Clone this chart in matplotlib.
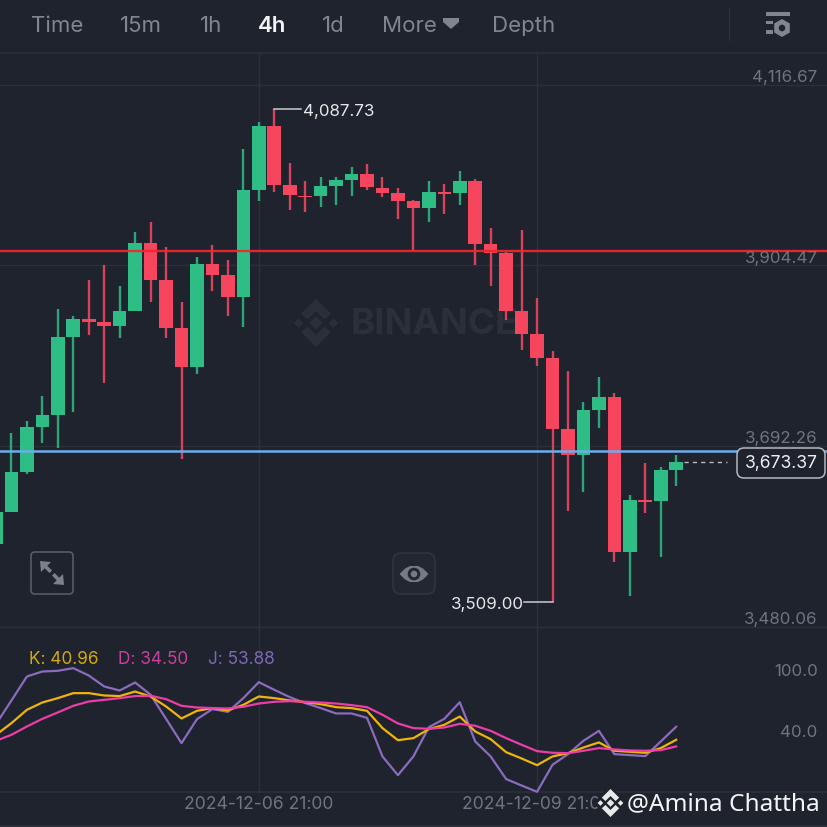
import matplotlib
matplotlib.use("Agg")
import matplotlib.pyplot as plt
from matplotlib.patches import Polygon, FancyBboxPatch, Circle, RegularPolygon

plt.rcParams['font.family'] = ['Inter', 'DejaVu Sans']

#####################################################################
# data

opens = [3577.5, 3614.8, 3661.7, 3715.3, 3729.0, 3821.0, 3841.0, 3837.9, 3832.8, 3850.9,
         3930.7, 3887.6, 3830.9, 3785.4, 3906.7, 3893.8, 3867.3, 3993.0, 4067.7, 3998.4,
         3986.3, 3985.9, 3998.0, 4004.7, 4012.1, 3996.0, 3989.0, 3980.4, 3972.2, 3990.6,
         3989.8, 4003.9, 3929.5, 3918.5, 3851.2, 3824.2, 3796.0, 3712.3, 3682.4, 3734.6,
         3750.2, 3568.2, 3628.9, 3628.0, 3664.8]
highs = [3614.8, 3707.9, 3722.0, 3751.7, 3853.2, 3844.5, 3887.3, 3904.9, 3879.8, 3943.2,
         3955.7, 3926.0, 3861.8, 3913.8, 3928.7, 3910.3, 4041.1, 4073.5, 4087.73, 4024.7,
         4003.1, 4008.9, 4008.2, 4020.0, 4023.8, 4008.9, 3995.7, 3981.6, 4003.1, 4000.0,
         4015.6, 4005.9, 3948.7, 3920.1, 3946.0, 3866.1, 3803.4, 3780.7, 3743.5, 3773.3,
         3754.5, 3634.7, 3673.0, 3668.3, 3681.3]
lows = [3577.5, 3614.8, 3659.8, 3696.5, 3690.6, 3732.9, 3822.2, 3766.3, 3819.2, 3850.9,
        3861.4, 3819.8, 3677.0, 3777.5, 3874.7, 3845.3, 3832.1, 3980.4, 3990.2, 3969.8,
        3967.8, 3973.4, 3975.7, 3986.3, 3993.0, 3985.1, 3958.9, 3922.5, 3955.7, 3964.3,
        3974.9, 3905.2, 3880.6, 3840.6, 3804.6, 3786.6, 3509.0, 3615.5, 3638.3, 3713.8,
        3555.6, 3516.5, 3613.6, 3562.3, 3646.0]
closes = [3614.8, 3661.7, 3715.3, 3729.0, 3821.0, 3841.0, 3837.9, 3832.8, 3850.9, 3930.7,
          3887.6, 3830.9, 3785.4, 3906.7, 3893.8, 3867.3, 3993.0, 4067.7, 3999.2, 3987.1,
          3984.7, 3998.0, 4004.7, 4012.1, 3996.5, 3989.4, 3980.7, 3972.2, 3990.6, 3988.6,
          4003.9, 3929.5, 3919.0, 3851.2, 3824.2, 3796.0, 3712.3, 3682.4, 3734.6, 3750.2,
          3568.2, 3628.9, 3627.2, 3664.8, 3673.37]

k_vals = [45.9, 57.4, 70.5, 77.7, 82.0, 86.9, 86.9, 84.6, 84.0, 88.5,
          83.6, 73.8, 62.0, 69.5, 72.2, 69.9, 75.4, 83.6, 82.0, 79.7,
          78.0, 76.1, 73.1, 72.2, 69.5, 52.5, 40.6, 42.6, 51.5, 55.7,
          63.9, 49.2, 41.6, 28.8, 22.6, 16.0, 24.6, 27.8, 33.4, 38.4,
          30.2, 29.2, 28.2, 32.8, 40.96]
d_vals = [40.0, 45.9, 54.1, 61.6, 67.9, 74.4, 78.7, 80.3, 82.0, 84.0,
          84.3, 81.0, 74.4, 72.8, 72.2, 71.8, 73.5, 76.7, 78.4, 79.0,
          78.4, 77.7, 76.7, 75.1, 73.1, 65.6, 57.1, 52.5, 51.8, 53.1,
          56.7, 54.8, 49.8, 42.6, 36.1, 29.8, 28.2, 27.8, 30.2, 32.8,
          31.5, 30.5, 30.2, 30.8, 34.50]
j_vals = [56.4, 79.7, 103.3, 108.2, 108.9, 111.5, 104.3, 93.5, 89.5, 97.4,
          85.3, 61.6, 37.7, 61.3, 71.2, 68.5, 82.0, 97.7, 90.2, 83.0,
          77.1, 72.2, 66.9, 66.9, 62.6, 24.6, 6.2, 24.6, 53.4, 61.6,
          78.0, 39.3, 24.6, 2.3, -4.0, -10.2, 16.4, 26.9, 40.0, 49.8,
          26.9, 25.9, 24.9, 39.3, 53.88]

price_ticks = [4116.67, 3904.47, 3692.26, 3480.06]
kdj_ticks = [100.0, 40.0]
tabs = ["Time", "15m", "1h", "4h", "1d", "More", "Depth"]
date_labels = ["2024-12-06 21:00", "2024-12-09 21:00"]
date_index = [17, 35]
red_level = 3921.7
blue_level = 3686.2
high_index = 18
low_index = 36

#####################################################################
# colours

BG = '#1E232D'
GRID = '#2B303A'
GREEN = '#2EBD85'
RED = '#F6465D'
LABEL = '#6F7580'
MUTED = '#80868F'

#####################################################################

def binance_logo(ax, cx, cy, r, color, zorder=1):
    # small diamonds in the middle and on both sides, chevrons above and below
    for dx, size in [(0, 0.27), (-0.72, 0.2), (0.72, 0.2)]:
        ax.add_patch(Polygon([(cx + dx*r, cy - size*r), (cx + (dx + size)*r, cy),
                              (cx + dx*r, cy + size*r), (cx + (dx - size)*r, cy)],
                             fc=color, ec='none', zorder=zorder))
    for s in (-1, 1):
        pts = [(0, 1), (0.62, 0.38), (0.36, 0.14), (0, 0.5), (-0.36, 0.14), (-0.62, 0.38)]
        ax.add_patch(Polygon([(cx + x*r, cy + s*y*r) for x, y in pts],
                             fc=color, ec='none', zorder=zorder))


def box(ax, x0, y0, x1, y1, fc, ec, lw=1.2, rad=4):
    ax.add_patch(FancyBboxPatch((x0, y0), x1 - x0, y1 - y0,
                                boxstyle="round,pad=0,rounding_size=%g" % rad,
                                fc=fc, ec=ec, lw=lw, zorder=0.5))


def pixel_axes(zorder):
    a = fig.add_axes([0, 0, 1, 1], zorder=zorder)
    a.set_xlim(0, 828)
    a.set_ylim(828, 0)
    a.axis('off')
    a.patch.set_alpha(0)
    return a

#####################################################################

fig = plt.figure(figsize=(8.28, 8.28), dpi=100, facecolor=BG)

back = pixel_axes(0)
front = pixel_axes(5)

ax = fig.add_axes([0, (828 - 627.8) / 828, 1, (627 - 53) / 828], zorder=2)
kd = fig.add_axes([0, (828 - 792.8) / 828, 1, (792 - 627) / 828], zorder=2)

for a in (ax, kd):
    a.patch.set_alpha(0)
    a.set_xlim(0.259, 53.82)
    a.set_xticks([])
    a.set_yticks([])
    for s in a.spines.values():
        s.set_visible(False)

ax.set_ylim(3480.06, 4154.2)
kd.set_ylim(-10.2, 152.2)

# candles
xs = list(range(len(opens)))
for i in xs:
    c = GREEN if closes[i] >= opens[i] else RED
    wick = '#2AA67A' if c == GREEN else '#D9405A'
    ax.vlines(i, lows[i], highs[i], color=wick, lw=1.7, zorder=3)
    lo = min(opens[i], closes[i])
    hi = max(opens[i], closes[i])
    ax.bar(i, max(hi - lo, 1.6), bottom=lo, width=0.88, color=c, zorder=4)

# price grid and labels
for v in price_ticks:
    ax.axhline(v, color=GRID, lw=1, zorder=1, clip_on=False)
    ax.annotate(f"{v:,.2f}", xy=(1, v), xycoords=ax.get_yaxis_transform(),
                xytext=(-7.5, 6), textcoords='offset points', ha='right', va='center',
                fontsize=12.2, color=LABEL, zorder=6, annotation_clip=False)

# vertical grid goes through both panes
for i in date_index:
    x = -4 + 15.46 * i
    back.plot([x, x], [53, 793], color=GRID, lw=1)

# horizontal levels
ax.axhline(red_level, color='#F0272C', lw=1.7, alpha=0.95, zorder=5)
ax.axhline(blue_level, color='#6CAEEA', lw=1.8, zorder=5)

# high and low markers
ax.plot([high_index, high_index + 1.75], [highs[high_index]] * 2, color='#C9CDD2', lw=1.1, zorder=5)
ax.annotate(f"{highs[high_index]:,.2f}", xy=(high_index + 1.85, highs[high_index]),
            xytext=(0, -0.7), textcoords='offset points',
            ha='left', va='center', fontsize=12.2, color='#E6E8EA', zorder=6)
ax.plot([low_index, low_index - 1.85], [lows[low_index]] * 2, color='#C9CDD2', lw=1.1, zorder=5)
ax.annotate(f"{lows[low_index]:,.2f}", xy=(low_index - 1.85, lows[low_index]),
            xytext=(0, -0.7), textcoords='offset points',
            ha='right', va='center', fontsize=12.2, color='#E6E8EA', zorder=6)

# last price
ax.plot([xs[-1] + 0.5, xs[-1] + 3.3], [closes[-1]] * 2, color='#B8BCC2', lw=1, ls=(0, (3, 3)), zorder=5)
box(front, 737, 449, 825, 479, BG, '#B4B8BE', lw=1.1, rad=7)
front.text(781, 464, f"{closes[-1]:,.2f}", ha='center', va='center', fontsize=12.6, color='#EDEEF0', zorder=6)

# KDJ
kd.plot(xs, j_vals, color='#8B6BBE', lw=1.6, zorder=3, clip_on=False)
kd.plot(xs, k_vals, color='#EFB40C', lw=1.6, zorder=4, clip_on=False)
kd.plot(xs, d_vals, color='#EE3CA8', lw=1.6, zorder=5, clip_on=False)

for v in kdj_ticks:
    kd.annotate(f"{v:.1f}", xy=(1, v), xycoords=kd.get_yaxis_transform(),
                xytext=(-7.5, 7), textcoords='offset points', ha='right', va='center',
                fontsize=12.2, color=LABEL, annotation_clip=False)

front.text(29, 660, f"K: {k_vals[-1]:.2f}", ha='left', va='center', fontsize=12.4, color='#D6A80F')
front.text(118, 660, f"D: {d_vals[-1]:.2f}", ha='left', va='center', fontsize=12.4, color='#C93F9C')
front.text(208, 660, f"J: {j_vals[-1]:.2f}", ha='left', va='center', fontsize=12.4, color='#7F68B5')

# pane separators
back.plot([0, 828], [793, 793], color=GRID, lw=1.2)
back.plot([0, 828], [53.5, 53.5], color=GRID, lw=1.2)
back.plot([0, 828], [827, 827], color=GRID, lw=1.2)
back.plot([729, 729], [9, 41], color=GRID, lw=1)

# date labels
for i, t in zip(date_index, date_labels):
    x = -4 + 15.46 * i
    front.text(x, 805, t, ha='center', va='center', fontsize=12.6, color=LABEL, zorder=1)

# top tabs
tab_x = [57, 141, 211, 272, 333, 409, 524]
for x, t in zip(tab_x, tabs):
    if t == "4h":
        front.text(x, 26, t, ha='center', va='center', fontsize=16, color='#F2F3F4', fontweight='semibold')
    else:
        front.text(x, 26, t, ha='center', va='center', fontsize=16, color=MUTED)
front.add_patch(Polygon([(443, 19), (459, 19), (459, 23), (451, 30), (443, 23)], fc=MUTED, ec='none'))

# settings icon
front.add_patch(Polygon([(766, 13), (790.5, 13), (790.5, 16.5), (766, 16.5)], fc=MUTED, ec='none'))
for y in (21.5, 31):
    front.add_patch(Polygon([(766, y), (773, y), (773, y + 3.8), (766, y + 3.8)], fc=MUTED, ec='none'))
front.add_patch(RegularPolygon((782, 29), 6, radius=9, fc=MUTED, ec='none'))
front.add_patch(Circle((782, 29), 3.3, fc=BG, ec='none'))

# expand button
box(front, 31, 553, 73, 595, BG, '#565C67', lw=1.2, rad=4)
front.add_patch(Polygon([(40, 562), (51, 563), (41, 573)], fc='#7B818B', ec='none'))
front.plot([44, 49.5], [566, 571.5], color='#7B818B', lw=2.6)
front.add_patch(Polygon([(64, 586), (53, 585), (63, 575)], fc='#7B818B', ec='none'))
front.plot([60, 54.5], [582, 576.5], color='#7B818B', lw=2.6)

# eye button
box(front, 393, 554, 435, 595, '#222732', '#2F343D', lw=1.2, rad=8)
front.add_patch(Polygon([(399.5, 575), (405, 569.5), (410, 567), (418, 567), (423, 569.5), (428.5, 575),
                         (423, 580.5), (418, 583), (410, 583), (405, 580.5)], fc='#757B85', ec='none'))
front.add_patch(Circle((414, 575), 6.3, fc='#222732', ec='none'))
front.add_patch(Circle((414, 575), 3.3, fc='#757B85', ec='none'))

# watermarks
binance_logo(back, 316, 324, 24, '#2A303A')
back.text(351, 325, "BINANCE", ha='left', va='center', fontsize=26.5, fontweight='bold', color='#2A303A')

front.add_patch(Polygon([(610.5, 787), (628, 804), (610.5, 821), (593, 804)], fc=BG, ec='none', zorder=3))
binance_logo(front, 610.5, 804, 14, '#E8E9EA', zorder=4)
front.text(627, 804, "@Amina Chattha", ha='left', va='center', fontsize=17.6,
           family=['Noto Sans', 'DejaVu Sans'], color='#F4F5F6', zorder=4)

fig.savefig("out.png", dpi=100, facecolor=BG)
